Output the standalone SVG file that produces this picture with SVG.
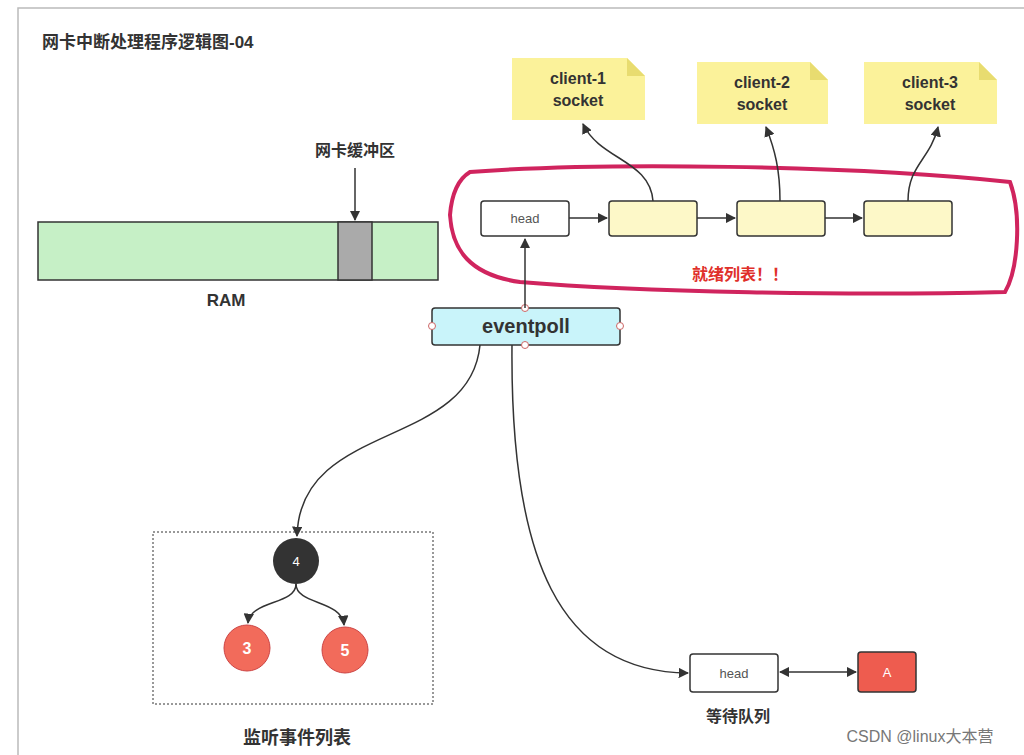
<svg xmlns="http://www.w3.org/2000/svg" width="1024" height="755" viewBox="0 0 1024 755">
<style>
text{font-family:"Liberation Sans","Noto Sans CJK SC",sans-serif;}
.b{font-weight:bold;fill:#333;}
.box{stroke:#333;stroke-width:1.5;}
.ln{fill:none;stroke:#333;stroke-width:1.5;}
.note{fill:#fbf29a;}
</style>
<defs>
<marker id="ar" viewBox="0 0 10 10" refX="9" refY="5" markerWidth="7" markerHeight="7" orient="auto-start-reverse"><path d="M0,0L10,5L0,10z" fill="#333"/></marker>
</defs>
<rect width="1024" height="755" fill="#fff"/>
<path d="M18,755V8H1024" fill="none" stroke="#bbb" stroke-width="1.5"/>
<text x="42" y="48" class="b" font-size="17">网卡中断处理程序逻辑图-04</text>
<g id="ram">
<rect x="38" y="222" width="400" height="58" fill="#c6f0c6" class="box"/>
<rect x="338" y="222" width="34" height="58" fill="#aaa" class="box"/>
<text x="226" y="306" class="b" font-size="17" text-anchor="middle">RAM</text>
</g>
<g id="buf"><text x="355" y="156" class="b" font-size="16" text-anchor="middle">网卡缓冲区</text></g>
<g id="ready">
<path d="M470,172 C600,162 850,165 1010,182 C1022,215 1018,270 1005,292 C850,296 640,292 520,282 C470,275 452,250 450,215 C452,190 460,178 470,172 Z" fill="none" stroke="#d0245e" stroke-width="4"/>
<text x="740" y="280" font-size="16" font-weight="bold" fill="#e0302a" text-anchor="middle">就绪列表！！</text>
</g>
<g id="head1"><rect x="481" y="201" width="88" height="35" rx="3" fill="#fff" class="box"/><text x="525" y="223" font-size="13" fill="#555" text-anchor="middle">head</text></g>
<g id="r1"><rect x="609" y="201" width="88" height="35" rx="3" fill="#fdf8c8" class="box"/></g>
<g id="r2"><rect x="737" y="201" width="88" height="35" rx="3" fill="#fdf8c8" class="box"/></g>
<g id="r3"><rect x="864" y="201" width="88" height="35" rx="3" fill="#fdf8c8" class="box"/></g>
<g id="c1"><path class="note" d="M512,58H627L645,76V120H512Z"/><path d="M627,58V76H645" fill="#e8dc70"/><text x="578" y="84" class="b" font-size="16" text-anchor="middle">client-1</text><text x="578" y="106" class="b" font-size="16" text-anchor="middle">socket</text></g>
<g id="c2"><path class="note" d="M697,62H810L828,80V124H697Z"/><path d="M810,62V80H828" fill="#e8dc70"/><text x="762" y="88" class="b" font-size="16" text-anchor="middle">client-2</text><text x="762" y="110" class="b" font-size="16" text-anchor="middle">socket</text></g>
<g id="c3"><path class="note" d="M864,62H979L997,80V124H864Z"/><path d="M979,62V80H997" fill="#e8dc70"/><text x="930" y="88" class="b" font-size="16" text-anchor="middle">client-3</text><text x="930" y="110" class="b" font-size="16" text-anchor="middle">socket</text></g>
<g id="ep"><rect x="432" y="308" width="188" height="37" rx="3" fill="#c9f4fa" class="box"/><text x="526" y="333" class="b" font-size="20" text-anchor="middle">eventpoll</text>
<g fill="#fff" stroke="#c66" stroke-width="1"><circle cx="525" cy="308" r="3.5"/><circle cx="432" cy="326" r="3.5"/><circle cx="620" cy="326" r="3.5"/><circle cx="525" cy="345" r="3.5"/></g></g>
<g id="tree">
<rect x="153" y="532" width="280" height="172" fill="none" stroke="#333" stroke-dasharray="2,2"/>
<circle cx="296" cy="561" r="23" fill="#333"/><text x="296" y="566" font-size="13" fill="#fff" text-anchor="middle">4</text>
<circle cx="247" cy="648" r="23" fill="#f26b5b" stroke="#c44" /><text x="247" y="654" font-size="16" font-weight="bold" fill="#fff" text-anchor="middle">3</text>
<circle cx="345" cy="650" r="23" fill="#f26b5b" stroke="#c44"/><text x="345" y="656" font-size="16" font-weight="bold" fill="#fff" text-anchor="middle">5</text>
<text x="297" y="744" class="b" font-size="18" text-anchor="middle">监听事件列表</text>
</g>
<g id="head2"><rect x="690" y="654" width="88" height="38" rx="3" fill="#fff" class="box"/><text x="734" y="678" font-size="13" fill="#555" text-anchor="middle">head</text></g>
<g id="a"><rect x="858" y="652" width="58" height="40" rx="3" fill="#ee5c4f" class="box"/><text x="887" y="677" font-size="13" fill="#fff" text-anchor="middle">A</text></g>
<text x="738" y="722" class="b" font-size="16" text-anchor="middle">等待队列</text>
<g id="connectors" class="ln">
<path class="ln" d="M355,168V220" marker-end="url(#ar)"/>
<path class="ln" d="M569,218H607" marker-end="url(#ar)"/>
<path class="ln" d="M697,218H735" marker-end="url(#ar)"/>
<path class="ln" d="M825,218H862" marker-end="url(#ar)"/>
<path class="ln" d="M653,201C650,160 600,160 583,124" marker-end="url(#ar)"/>
<path class="ln" d="M780,201C780,170 775,150 766,127" marker-end="url(#ar)"/>
<path class="ln" d="M908,201C908,165 930,160 938,127" marker-end="url(#ar)"/>
<path class="ln" d="M525,308V239" marker-end="url(#ar)"/>
<path class="ln" d="M480,345C470,450 300,420 297,536" marker-end="url(#ar)"/>
<path class="ln" d="M512,345C510,560 560,672 688,673" marker-end="url(#ar)"/>
<path class="ln" d="M296,584C296,605 250,600 248,623" marker-end="url(#ar)"/>
<path class="ln" d="M296,584C296,605 342,600 344,625" marker-end="url(#ar)"/>
<path class="ln" d="M780,672H856" marker-start="url(#ar)" marker-end="url(#ar)"/>
</g>
<text x="920" y="742" font-size="16" fill="#777" text-anchor="middle">CSDN @linux大本营</text>
</svg>
